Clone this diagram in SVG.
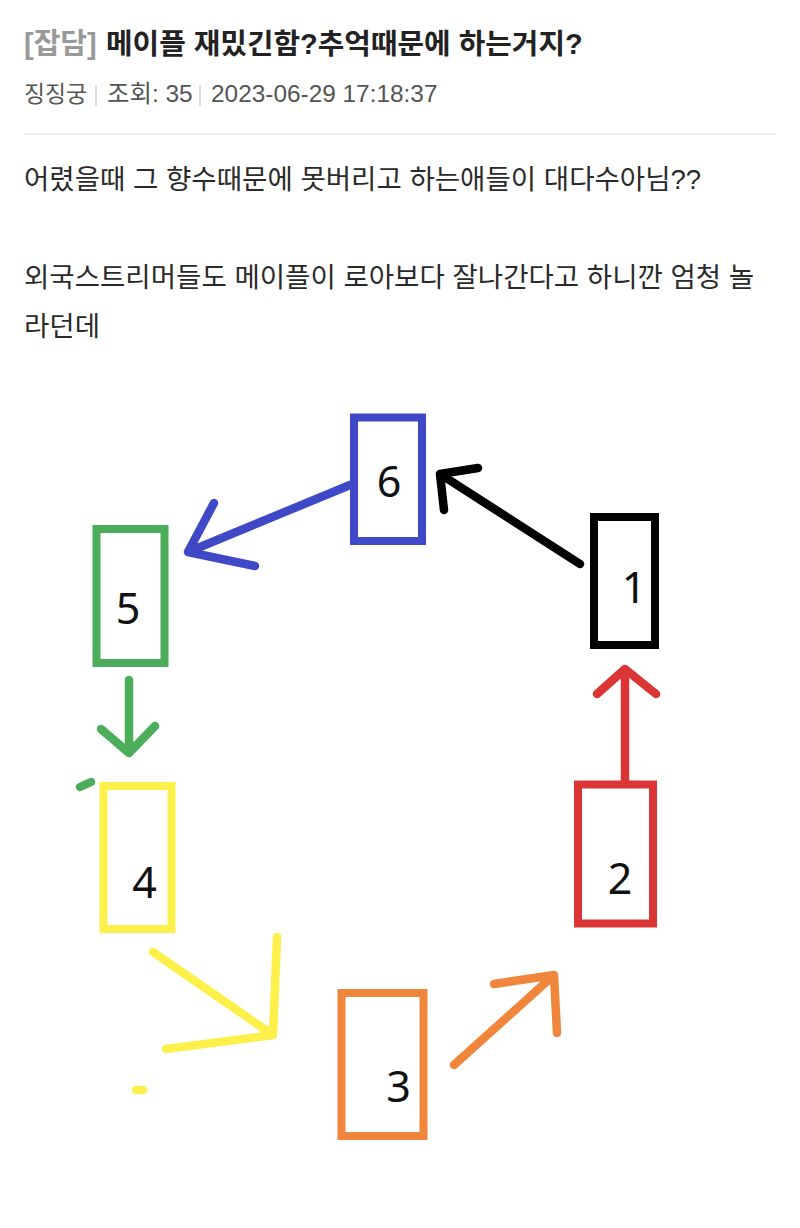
<svg xmlns="http://www.w3.org/2000/svg" width="800" height="1228" viewBox="0 0 800 1228">
<style>
text{font-family:"Liberation Sans","Noto Sans CJK KR",sans-serif}
.t{font-size:27.55px;fill:#2a2a2a}
.m{font-size:24.4px;fill:#555}
.a{font-size:22.8px}
.s{fill:#ddd}
.n{font-family:"Noto Sans","DejaVu Sans",sans-serif;font-size:43px;fill:#111;text-anchor:middle}
.b{fill:#fff;stroke-width:8}
.c{fill:none;stroke-width:8.5;stroke-linecap:round;stroke-linejoin:round}
.blk{stroke:#000}.blu{stroke:#3f48c6}.grn{stroke:#4cad5a}.yel{stroke:#fdf04a}.org{stroke:#f0863c}.red{stroke:#dc3535}
</style>
<rect width="800" height="1228" fill="#fff"/>
<text x="24" y="54" font-size="29" font-weight="700" fill="#999">[잡담]</text>
<text x="106" y="54" font-size="28.9" font-weight="700" fill="#222">메이플 재밌긴함?추억때문에 하는거지?</text>
<text class="m a" x="24" y="102">징징궁</text>
<rect class="s" x="95" y="85" width="2" height="21"/>
<text class="m" x="107" y="102">조회: 35</text>
<rect class="s" x="199" y="85" width="2" height="21"/>
<text class="m" x="211" y="102">2023-06-29 17:18:37</text>
<rect x="24" y="133" width="752" height="2" fill="#eee"/>
<text class="t" x="24" y="189">어렸을때 그 향수때문에 못버리고 하는애들이 대다수아님??</text>
<text class="t" x="24" y="287">외국스트리머들도 메이플이 로아보다 잘나간다고 하니깐 엄청 놀</text>
<text class="t" x="24" y="336">라던데</text>
<g id="connectors">
<path class="c blk" d="M580 564L440 474M440 474L478 468M440 474L444 510"/>
<path class="c blu" d="M350 485L188 552M188 552L214 503M188 552L255 566"/>
<path class="c grn" d="M129 680L129 753M129 753L101 729M129 753L155 726"/>
<path class="c yel" d="M153 952L273 1035M273 1035L277 937M273 1035L166 1049"/>
<path class="c org" d="M454 1065L554 975M554 975L494 984M554 975L557 1033"/>
<path class="c red" d="M625 782L625 669M625 669L597 694M625 669L656 694"/>
<path class="c grn" d="M80 787L91 782"/>
<path class="c yel" d="M136 1090L143 1090"/>
</g>
<g id="node-6"><rect class="b blu" x="354" y="417.5" width="68" height="123.5"/><text class="n" x="389" y="497">6</text></g>
<g id="node-1"><rect class="b blk" x="594" y="517" width="61" height="128"/><text class="n" x="634" y="603">1</text></g>
<g id="node-5"><rect class="b grn" x="96.500" y="529" width="68" height="134"/><text class="n" x="128" y="624">5</text></g>
<g id="node-4"><rect class="b yel" x="103.500" y="786" width="68" height="143"/><text class="n" x="144.500" y="898">4</text></g>
<g id="node-2"><rect class="b red" x="578" y="784.500" width="75" height="139"/><text class="n" x="620" y="894">2</text></g>
<g id="node-3"><rect class="b org" x="341.500" y="993" width="82" height="143"/><text class="n" x="398.500" y="1102">3</text></g>
</svg>
